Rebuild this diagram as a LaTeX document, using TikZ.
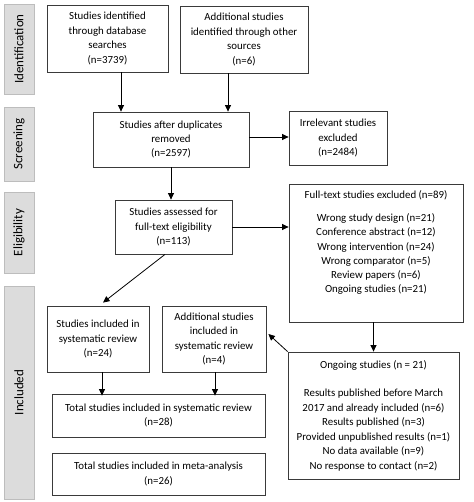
\documentclass[tikz,border=0pt]{standalone}
\usepackage{fontspec}
\setmainfont{Carlito}
\usetikzlibrary{arrows.meta}
\definecolor{barfill}{HTML}{DCDCDC}
\definecolor{barline}{HTML}{BDBDBD}
\definecolor{boxline}{HTML}{3A3A3A}
\begin{document}
\begin{tikzpicture}[x=1bp,y=-1bp,
  box/.style={draw=boxline, line width=0.8pt, rectangle, align=center, inner sep=2bp,
    font=\fontsize{10.9}{14.5}\selectfont},
  bar/.style={draw=barline, fill=barfill, line width=0.9pt, rectangle, minimum width=30bp,
    font=\fontsize{13}{15}\selectfont},
  arr/.style={draw=black, line width=0.8pt, -{Triangle[length=6.5bp,width=6bp]}},
]
\useasboundingbox (0,0) rectangle (474,502);

% side bars
\node[bar, minimum height=90bp] (sbI) at (19,49) {};
\node[rotate=90, font=\fontsize{13}{15}\selectfont] (tI) at (sbI.center) {Identification};
\node[bar, minimum height=74bp] (sbS) at (19,144) {};
\node[rotate=90, font=\fontsize{13}{15}\selectfont] (tS) at (sbS.center) {Screening};
\node[bar, minimum height=81bp] (sbE) at (19,232.5) {};
\node[rotate=90, font=\fontsize{13}{15}\selectfont] (tE) at (sbE.center) {Eligibility};
\node[bar, minimum height=213bp] (sbN) at (19,392.5) {};
\node[rotate=90, font=\fontsize{13}{15}\selectfont] (tN) at (sbN.center) {Included};

% boxes
\node[box, minimum width=121bp, minimum height=67bp] (db) at (107.5,38.5)
  {Studies identified\\through database\\searches\\(n=3739)};
\node[box, minimum width=128bp, minimum height=67bp] (oth) at (244,39.5)
  {Additional studies\\identified through other\\sources\\(n=6)};
\node[box, minimum width=156bp, minimum height=55bp] (dup) at (171,139.5)
  {Studies after duplicates\\removed\\(n=2597)};
\node[box, minimum width=98bp, minimum height=54bp] (irr) at (338,138)
  {Irrelevant studies\\excluded\\(n=2484)};
\node[box, minimum width=117bp, minimum height=54bp] (elig) at (173.5,227)
  {Studies assessed for\\full-text eligibility\\(n=113)};
\node[box, minimum width=174bp, minimum height=138bp,
  label={[anchor=north, align=center, yshift=-3bp, font=\fontsize{10.9}{14.2}\selectfont]north:
  Full-text studies excluded (n=89)\\[9.5bp]
  Wrong study design (n=21)\\Conference abstract (n=12)\\Wrong intervention (n=24)\\
  Wrong comparator (n=5)\\Review papers (n=6)\\Ongoing studies (n=21)}] (ft) at (376,253) {};
\node[box, minimum width=102bp, minimum height=66bp] (inc) at (98,339)
  {Studies included in\\systematic review\\(n=24)};
\node[box, minimum width=104bp, minimum height=66bp] (add) at (214,339)
  {Additional studies\\included in\\systematic review\\(n=4)};
\node[box, minimum width=171bp, minimum height=127bp] (ong) at (373.5,415.5)
  {Ongoing studies (n = 21)\\[14.5bp]
  Results published before March\\2017 and already included (n=6)\\Results published (n=3)\\
  Provided unpublished results (n=1)\\No data available (n=9)\\No response to contact (n=2)};
\node[box, minimum width=213bp, minimum height=43bp] (tsr) at (158.5,415.5)
  {Total studies included in systematic review\\(n=28)};
\node[box, minimum width=213bp, minimum height=42bp] (tma) at (158.5,474)
  {Total studies included in meta-analysis\\(n=26)};

% helper coordinates
\coordinate (xa) at (121,0);
\coordinate (xb) at (228,0);
\coordinate (xc) at (165,0);
\coordinate (xd) at (103,0);
\coordinate (xe) at (102,0);
\coordinate (xf) at (215,0);
\coordinate (ya) at (0,137);

% connectors
\draw[arr] (xa |- db.south) -- (xa |- dup.north);
\draw[arr] (xb |- oth.south) -- (xb |- dup.north);
\draw[arr] (dup.east |- ya) -- (irr.west |- ya);
\draw[arr] (dup.south) -- (dup.south |- elig.north);
\draw[arr] (elig.east) -- (ft.west |- elig.east);
\draw[arr] (xc |- elig.south) -- ([yshift=3bp]xd |- inc.north);
\draw[arr] (ft.south -| ong.north) -- (ong.north);
\draw[arr] (ong.north west) -- ([shift={(2,-5)}]add.east);
\draw[arr] (xe |- inc.south) -- ([yshift=-2bp]xe |- tsr.north);
\draw[arr] (xf |- add.south) -- ([yshift=-2bp]xf |- tsr.north);
\end{tikzpicture}
\end{document}
